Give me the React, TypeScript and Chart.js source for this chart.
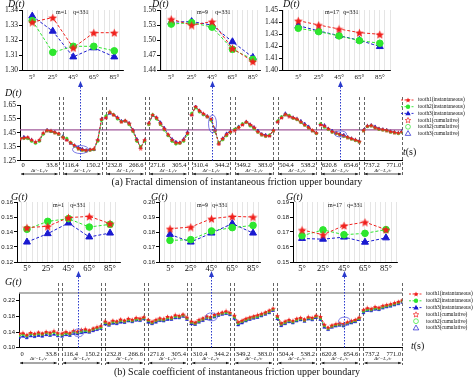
import React, { useEffect, useRef } from "react";
import { Chart, registerables } from "chart.js";

Chart.register(...registerables);

const SERIF = "'Liberation Serif', 'Times New Roman', serif";
const SANS = "'Liberation Sans', Arial, sans-serif";

// ================= DATA =================
const ANGLES = [5, 25, 45, 65, 85];

// (a) fractal dimension D(t) vs angle
const D_M1_TOOTH1 = [1.332, 1.335, 1.315, 1.325, 1.325];
const D_M1_TOOTH2 = [1.333, 1.312, 1.316, 1.316, 1.313];
const D_M1_TOOTH3 = [1.336, 1.326, 1.309, 1.315, 1.309];

const D_M9_TOOTH1 = [1.542, 1.530, 1.537, 1.484, 1.458];
const D_M9_TOOTH2 = [1.532, 1.535, 1.526, 1.482, 1.462];
const D_M9_TOOTH3 = [1.536, 1.537, 1.530, 1.497, 1.466];

const D_M17_TOOTH1 = [1.4412, 1.4376, 1.4343, 1.4313, 1.4299];
const D_M17_TOOTH2 = [1.4349, 1.4321, 1.4286, 1.4247, 1.4225];
const D_M17_TOOTH3 = [1.4371, 1.4327, 1.4288, 1.4250, 1.4198];

// (b) scale coefficient G(t) vs angle
const G_M1_TOOTH1 = [0.1429, 0.1438, 0.1496, 0.1504, 0.1456];
const G_M1_TOOTH2 = [0.1418, 0.1471, 0.1489, 0.1433, 0.1451];
const G_M1_TOOTH3 = [0.1333, 0.1389, 0.1460, 0.1367, 0.1393];

const G_M9_TOOTH1 = [0.1822, 0.1833, 0.1889, 0.1904, 0.1900];
const G_M9_TOOTH2 = [0.1744, 0.1749, 0.1807, 0.1829, 0.1844];
const G_M9_TOOTH3 = [0.1784, 0.1733, 0.1793, 0.1856, 0.1793];

const G_M17_TOOTH1 = [0.1714, 0.1682, 0.1743, 0.1766, 0.1716];
const G_M17_TOOTH2 = [0.1675, 0.1714, 0.1682, 0.1691, 0.1716];
const G_M17_TOOTH3 = [0.1657, 0.1652, 0.1666, 0.1632, 0.1661];

// time-series segments (t in s)
const SEG_START_LABELS = ["0", "116.4", "232.8", "271.6", "310.4", "349.2", "504.4", "620.8", "737.2"];
const SEG_END_LABELS = ["33.8", "150.2", "266.6", "305.4", "344.2", "383.0", "538.2", "654.6", "771.0"];

const D_TOOTH1_SEGS = [
  [1.41, 1.415, 1.42, 1.40, 1.385, 1.40, 1.45, 1.47, 1.465, 1.455, 1.445],
  [1.42, 1.40, 1.38, 1.36, 1.34, 1.33, 1.325, 1.33, 1.335, 1.40, 1.55],
  [1.56, 1.60, 1.58, 1.56, 1.53, 1.54, 1.52, 1.47, 1.40, 1.34, 1.40],
  [1.52, 1.58, 1.56, 1.52, 1.48, 1.44, 1.40, 1.38, 1.38, 1.40, 1.45],
  [1.58, 1.64, 1.61, 1.59, 1.57, 1.55, 1.47, 1.37, 1.41, 1.44, 1.46],
  [1.47, 1.49, 1.51, 1.53, 1.51, 1.49, 1.46, 1.44, 1.43, 1.43, 1.47],
  [1.53, 1.56, 1.585, 1.57, 1.56, 1.55, 1.53, 1.51, 1.49, 1.47, 1.45],
  [1.51, 1.50, 1.48, 1.46, 1.45, 1.44, 1.43, 1.42, 1.41, 1.40, 1.39],
  [1.47, 1.50, 1.505, 1.49, 1.48, 1.475, 1.47, 1.46, 1.455, 1.45, 1.46],
];
const D_TOOTH2_SEGS = [
  [1.41, 1.41, 1.41, 1.39, 1.375, 1.39, 1.44, 1.465, 1.46, 1.45, 1.44],
  [1.42, 1.41, 1.38, 1.355, 1.335, 1.325, 1.32, 1.325, 1.33, 1.39, 1.54],
  [1.57, 1.60, 1.58, 1.55, 1.53, 1.535, 1.51, 1.46, 1.39, 1.35, 1.39],
  [1.51, 1.58, 1.55, 1.51, 1.47, 1.43, 1.39, 1.37, 1.375, 1.39, 1.44],
  [1.59, 1.63, 1.60, 1.58, 1.565, 1.54, 1.46, 1.38, 1.40, 1.43, 1.455],
  [1.475, 1.49, 1.515, 1.525, 1.50, 1.48, 1.455, 1.435, 1.425, 1.435, 1.465],
  [1.535, 1.565, 1.58, 1.575, 1.555, 1.545, 1.525, 1.505, 1.485, 1.465, 1.445],
  [1.515, 1.49, 1.475, 1.455, 1.445, 1.435, 1.425, 1.415, 1.405, 1.395, 1.385],
  [1.465, 1.495, 1.50, 1.485, 1.475, 1.47, 1.465, 1.455, 1.45, 1.445, 1.455],
];
const D_TOOTH3_SEGS = [
  [1.41, 1.42, 1.415, 1.40, 1.38, 1.395, 1.445, 1.47, 1.46, 1.455, 1.44],
  [1.425, 1.40, 1.375, 1.36, 1.345, 1.335, 1.325, 1.33, 1.33, 1.40, 1.55],
  [1.56, 1.59, 1.58, 1.56, 1.535, 1.535, 1.52, 1.47, 1.405, 1.345, 1.395],
  [1.52, 1.575, 1.56, 1.525, 1.485, 1.435, 1.405, 1.385, 1.38, 1.405, 1.455],
  [1.58, 1.64, 1.61, 1.585, 1.57, 1.545, 1.475, 1.375, 1.41, 1.445, 1.46],
  [1.47, 1.495, 1.51, 1.53, 1.51, 1.49, 1.465, 1.44, 1.435, 1.43, 1.47],
  [1.53, 1.56, 1.59, 1.57, 1.56, 1.55, 1.535, 1.515, 1.495, 1.465, 1.45],
  [1.51, 1.505, 1.48, 1.465, 1.45, 1.44, 1.435, 1.42, 1.41, 1.40, 1.39],
  [1.47, 1.50, 1.505, 1.495, 1.48, 1.475, 1.47, 1.46, 1.455, 1.45, 1.465],
];

const G_TOOTH1_SEGS = [
  [0.136, 0.138, 0.133, 0.139, 0.136, 0.140, 0.137, 0.141, 0.139, 0.143, 0.138],
  [0.137, 0.141, 0.138, 0.144, 0.142, 0.146, 0.148, 0.145, 0.150, 0.153, 0.156],
  [0.168, 0.163, 0.170, 0.168, 0.173, 0.170, 0.175, 0.172, 0.177, 0.175, 0.179],
  [0.172, 0.167, 0.172, 0.176, 0.174, 0.180, 0.178, 0.184, 0.182, 0.186, 0.178],
  [0.168, 0.165, 0.172, 0.176, 0.181, 0.179, 0.185, 0.188, 0.191, 0.194, 0.190],
  [0.183, 0.166, 0.170, 0.175, 0.178, 0.181, 0.184, 0.187, 0.191, 0.196, 0.201],
  [0.182, 0.163, 0.168, 0.172, 0.169, 0.175, 0.177, 0.173, 0.179, 0.177, 0.183],
  [0.180, 0.160, 0.152, 0.158, 0.161, 0.163, 0.161, 0.166, 0.169, 0.172, 0.178],
  [0.197, 0.202, 0.200, 0.205, 0.203, 0.208, 0.210, 0.212, 0.215, 0.218, 0.222],
];
const G_TOOTH2_SEGS = [
  [0.131, 0.134, 0.130, 0.135, 0.133, 0.136, 0.134, 0.138, 0.135, 0.139, 0.134],
  [0.133, 0.137, 0.135, 0.140, 0.139, 0.142, 0.144, 0.142, 0.147, 0.150, 0.152],
  [0.164, 0.160, 0.166, 0.165, 0.169, 0.167, 0.171, 0.169, 0.173, 0.172, 0.176],
  [0.169, 0.164, 0.169, 0.172, 0.171, 0.176, 0.175, 0.180, 0.179, 0.183, 0.175],
  [0.165, 0.162, 0.168, 0.173, 0.177, 0.176, 0.181, 0.185, 0.188, 0.190, 0.187],
  [0.179, 0.162, 0.167, 0.171, 0.175, 0.178, 0.180, 0.184, 0.188, 0.192, 0.198],
  [0.178, 0.160, 0.164, 0.169, 0.166, 0.171, 0.174, 0.170, 0.176, 0.174, 0.180],
  [0.176, 0.156, 0.149, 0.155, 0.158, 0.160, 0.158, 0.163, 0.166, 0.169, 0.175],
  [0.193, 0.198, 0.197, 0.201, 0.200, 0.204, 0.207, 0.209, 0.212, 0.215, 0.219],
];
const G_TOOTH3_SEGS = [
  [0.126, 0.129, 0.125, 0.130, 0.128, 0.131, 0.129, 0.133, 0.131, 0.134, 0.130],
  [0.129, 0.133, 0.131, 0.136, 0.135, 0.138, 0.140, 0.139, 0.143, 0.146, 0.149],
  [0.160, 0.157, 0.162, 0.161, 0.165, 0.164, 0.168, 0.166, 0.170, 0.169, 0.173],
  [0.165, 0.161, 0.165, 0.169, 0.168, 0.172, 0.172, 0.176, 0.176, 0.180, 0.172],
  [0.161, 0.159, 0.165, 0.169, 0.174, 0.173, 0.178, 0.182, 0.185, 0.187, 0.184],
  [0.175, 0.158, 0.163, 0.168, 0.172, 0.175, 0.177, 0.181, 0.185, 0.189, 0.195],
  [0.174, 0.156, 0.161, 0.166, 0.163, 0.168, 0.171, 0.167, 0.173, 0.171, 0.177],
  [0.172, 0.152, 0.146, 0.152, 0.155, 0.157, 0.155, 0.160, 0.163, 0.166, 0.172],
  [0.189, 0.195, 0.194, 0.198, 0.197, 0.201, 0.204, 0.206, 0.209, 0.212, 0.216],
];

const D_REF = 1.472;
const G_REF = 0.24;

const D_ANNOT_SEG = [1, 4, 7];
const D_ANNOT_POS = [0.44, 0.52, 0.5];
const D_ANNOT_Y = [1.33, 1.515, 1.442];
const G_ANNOT_SEG = [1, 4, 7];
const G_ANNOT_POS = [0.42, 0.5, 0.6];
const G_ANNOT_Y = [0.138, 0.179, 0.168];

const INST_NAMES = ["tooth1(instantaneous)", "tooth2(instantaneous)", "tooth3(instantaneous)"];
const CUM_NAMES = ["tooth1(cumulative)", "tooth2(cumulative)", "tooth3(cumulative)"];
const SEG_ARROW_TEXT = "\u0394t'=L\u2081/v";

// ================= STYLE HELPERS =================
const COLORS = ["#f0201c", "#2ee62e", "#1a1ad0"];
const MARKERS = ["star", "circle", "triangle"];
const SEG_W = 10;
const SEG_GAP = 1.1;
const SEG_STEP = SEG_W + SEG_GAP;
const X_MAX = (SEG_START_LABELS.length - 1) * SEG_STEP + SEG_W;

function markerPath(ctx: CanvasRenderingContext2D, style: string, x: number, y: number, r: number) {
  ctx.beginPath();
  if (style === "circle") {
    ctx.arc(x, y, r, 0, Math.PI * 2);
  } else if (style === "triangle") {
    ctx.moveTo(x, y - r);
    ctx.lineTo(x + r * 0.95, y + r * 0.65);
    ctx.lineTo(x - r * 0.95, y + r * 0.65);
    ctx.closePath();
  } else {
    for (let i = 0; i < 10; i++) {
      const a = -Math.PI / 2 + (i * Math.PI) / 5;
      const rr = i % 2 === 0 ? r : r * 0.45;
      const px = x + rr * Math.cos(a);
      const py = y + rr * Math.sin(a);
      if (i === 0) ctx.moveTo(px, py);
      else ctx.lineTo(px, py);
    }
    ctx.closePath();
  }
}

const starCache: Record<string, HTMLCanvasElement> = {};
function starImage(size: number, color: string) {
  const key = size + color;
  if (starCache[key]) return starCache[key];
  const c = document.createElement("canvas");
  c.width = size;
  c.height = size;
  const ctx = c.getContext("2d")!;
  markerPath(ctx, "star", size / 2, size / 2 + size * 0.06, size / 2);
  ctx.fillStyle = color;
  ctx.fill();
  starCache[key] = c;
  return c;
}

function buildSeries(segs: number[][]) {
  const out: { x: number; y: number | null }[] = [];
  segs.forEach((vals, k) => {
    vals.forEach((v, i) => out.push({ x: k * SEG_STEP + (i * SEG_W) / (vals.length - 1), y: v }));
    if (k < segs.length - 1) out.push({ x: k * SEG_STEP + SEG_W + SEG_GAP / 2, y: null });
  });
  return out;
}

// ================= SMALL CHARTS =================
type SmallSpec = {
  left: number; top: number; width: number; height: number;
  areaL: number; areaT: number; areaR: number; areaB: number;
  xMin: number; xMax: number; yMin: number; yMax: number; yStep: number;
  yFont: string; yFontSize: number; xFontSize: number;
  series: number[][];
};

function smallConfig(s: SmallSpec): any {
  const grid: number[] = [];
  for (let v = Math.ceil(s.xMin / 5) * 5; v <= s.xMax; v += 5) grid.push(v);
  return {
    type: "line",
    data: {
      datasets: s.series.map((vals, i) => ({
        label: INST_NAMES[i],
        data: ANGLES.map((a, j) => ({ x: a, y: vals[j] })),
        borderColor: COLORS[i],
        backgroundColor: COLORS[i],
        borderWidth: 1,
        borderDash: [3, 2],
        pointStyle: i === 0 ? starImage(9, COLORS[0]) : MARKERS[i],
        pointRadius: i === 1 ? 3.3 : 4,
        pointBorderWidth: 1,
        pointBackgroundColor: COLORS[i],
        pointBorderColor: COLORS[i],
      })),
    },
    options: {
      animation: false,
      responsive: false,
      devicePixelRatio: 1,
      layout: { padding: { left: 0, top: s.areaT - s.top, right: s.left + s.width - s.areaR, bottom: 0 } },
      plugins: { legend: { display: false }, tooltip: { enabled: false } },
      scales: {
        x: {
          type: "linear",
          min: s.xMin,
          max: s.xMax,
          afterBuildTicks: (axis: any) => {
            axis.ticks = grid.map((v) => ({ value: v }));
          },
          afterFit: (axis: any) => {
            axis.height = s.top + s.height - s.areaB;
          },
          ticks: {
            autoSkip: false,
            maxRotation: 0,
            padding: 2,
            color: "#111",
            font: { family: SERIF, size: s.xFontSize },
            callback: (v: any) => (ANGLES.includes(Number(v)) ? v + "\u00b0" : ""),
          },
          grid: { color: "#dadada", lineWidth: 0.7, drawTicks: false },
          border: { color: "#000", width: 1 },
        },
        y: {
          min: s.yMin,
          max: s.yMax,
          afterFit: (axis: any) => {
            axis.width = s.areaL - s.left;
          },
          ticks: {
            stepSize: s.yStep,
            padding: 1,
            color: "#111",
            font: { family: s.yFont, size: s.yFontSize },
            callback: (v: any) => Number(v).toFixed(2),
          },
          grid: { drawOnChartArea: false, tickLength: 3, tickColor: "#000", color: "#000" },
          border: { color: "#000", width: 1 },
        },
      },
    },
  };
}

// ================= TIME SERIES =================
type SeriesSpec = {
  left: number; top: number; width: number; height: number;
  areaL: number; areaT: number; areaR: number; areaB: number;
  yMin: number; yMax: number; yStep: number; yFont: string; yFontSize: number;
  teeth: number[][][];
  refY: number; refColor: string; refWidth: number;
  annSeg: number[]; annPos: number[]; annY: number[]; annR: number[][];
  labelDy: number; textDy: number; arrowDy: number; sepAbove: number;
  legendX: number; legendY: number; legendStep: number;
};

function seriesDeco(s: SeriesSpec) {
  return {
    id: "seriesDeco",
    beforeDatasetsDraw(chart: any) {
      const { ctx, chartArea: ca, scales } = chart;
      const x = scales.x;
      const y = scales.y;
      ctx.save();
      const ry = y.getPixelForValue(s.refY);
      ctx.strokeStyle = s.refColor;
      ctx.lineWidth = s.refWidth;
      ctx.beginPath();
      ctx.moveTo(ca.left, ry);
      ctx.lineTo(ca.right, ry);
      ctx.stroke();
      ctx.strokeStyle = "#555";
      ctx.lineWidth = 0.9;
      ctx.setLineDash([3, 2]);
      SEG_START_LABELS.forEach((_, k) => {
        const a = k * SEG_STEP;
        const b = a + SEG_W;
        const xs = k === 0 ? [b] : [a, b];
        xs.forEach((v) => {
          const px = Math.round(x.getPixelForValue(v)) + 0.5;
          ctx.beginPath();
          ctx.moveTo(px, ca.top - s.sepAbove);
          ctx.lineTo(px, ca.bottom + s.arrowDy + 2);
          ctx.stroke();
        });
      });
      ctx.restore();
    },
    afterDraw(chart: any) {
      const { ctx, chartArea: ca, scales } = chart;
      const x = scales.x;
      const y = scales.y;
      ctx.save();
      // segment labels and arrows
      ctx.fillStyle = "#111";
      ctx.strokeStyle = "#222";
      ctx.lineWidth = 0.8;
      SEG_START_LABELS.forEach((lab, k) => {
        const a = x.getPixelForValue(k * SEG_STEP);
        const b = x.getPixelForValue(k * SEG_STEP + SEG_W);
        ctx.font = `6.5px ${SERIF}`;
        ctx.textBaseline = "middle";
        ctx.textAlign = "left";
        ctx.fillText(lab, a + 1.5, ca.bottom + s.labelDy);
        ctx.textAlign = "right";
        ctx.fillText(SEG_END_LABELS[k], b - 1, ca.bottom + s.labelDy);
        ctx.font = `italic 5px ${SERIF}`;
        ctx.textAlign = "center";
        ctx.fillText(SEG_ARROW_TEXT, (a + b) / 2, ca.bottom + s.textDy);
        const ay = ca.bottom + s.arrowDy;
        ctx.beginPath();
        ctx.moveTo(a + 1, ay);
        ctx.lineTo(b - 1, ay);
        ctx.stroke();
        ctx.beginPath();
        ctx.moveTo(a + 1, ay);
        ctx.lineTo(a + 4, ay - 1.3);
        ctx.lineTo(a + 4, ay + 1.3);
        ctx.closePath();
        ctx.moveTo(b - 1, ay);
        ctx.lineTo(b - 4, ay - 1.3);
        ctx.lineTo(b - 4, ay + 1.3);
        ctx.closePath();
        ctx.fill();
      });
      // annotations: dotted arrows and ellipses
      s.annSeg.forEach((seg, i) => {
        const px = Math.round(x.getPixelForValue(seg * SEG_STEP + s.annPos[i] * SEG_W)) + 0.5;
        ctx.strokeStyle = "#2a3acc";
        ctx.fillStyle = "#2a3acc";
        ctx.lineWidth = 1;
        ctx.setLineDash([1.5, 1.5]);
        ctx.beginPath();
        ctx.moveTo(px, 7);
        ctx.lineTo(px, ca.bottom);
        ctx.stroke();
        ctx.setLineDash([]);
        ctx.beginPath();
        ctx.moveTo(px, 1);
        ctx.lineTo(px + 2.5, 7);
        ctx.lineTo(px - 2.5, 7);
        ctx.closePath();
        ctx.fill();
        ctx.strokeStyle = "#5c5ce0";
        ctx.lineWidth = 0.8;
        ctx.beginPath();
        ctx.ellipse(px, y.getPixelForValue(s.annY[i]), s.annR[i][0], s.annR[i][1], 0, 0, Math.PI * 2);
        ctx.stroke();
      });
      // legend
      const names = [...INST_NAMES, ...CUM_NAMES];
      names.forEach((name, i) => {
        const k = i % 3;
        const ly = s.legendY + i * s.legendStep;
        const lx = s.legendX;
        ctx.setLineDash([]);
        if (i < 3) {
          ctx.strokeStyle = COLORS[k];
          ctx.lineWidth = 0.9;
          ctx.setLineDash([2, 1.5]);
          ctx.beginPath();
          ctx.moveTo(lx - 7, ly);
          ctx.lineTo(lx + 7, ly);
          ctx.stroke();
          ctx.setLineDash([]);
          markerPath(ctx, MARKERS[k], lx, ly + (k === 0 ? 0.3 : 0), k === 1 ? 2.2 : 2.8);
          ctx.fillStyle = COLORS[k];
          ctx.fill();
        } else {
          markerPath(ctx, MARKERS[k], lx, ly + (k === 0 ? 0.3 : 0), k === 1 ? 2.4 : 2.9);
          ctx.strokeStyle = COLORS[k];
          ctx.lineWidth = 0.7;
          ctx.stroke();
        }
        ctx.fillStyle = "#111";
        ctx.font = `5.4px ${SERIF}`;
        ctx.textAlign = "left";
        ctx.textBaseline = "middle";
        ctx.fillText(name, lx + 10, ly);
      });
      ctx.restore();
    },
  };
}

function seriesConfig(s: SeriesSpec): any {
  return {
    type: "line",
    data: {
      datasets: s.teeth.map((segs, i) => ({
        label: INST_NAMES[i],
        data: buildSeries(segs),
        borderColor: COLORS[i],
        backgroundColor: COLORS[i],
        borderWidth: 1,
        borderDash: [2.5, 1.5],
        pointStyle: i === 0 ? starImage(5, COLORS[0]) : MARKERS[i],
        pointRadius: i === 1 ? 1.3 : 1.7,
        pointBorderWidth: 0.6,
        pointBackgroundColor: COLORS[i],
        pointBorderColor: COLORS[i],
        spanGaps: false,
      })),
    },
    options: {
      animation: false,
      responsive: false,
      devicePixelRatio: 1,
      layout: { padding: { left: 0, top: s.areaT - s.top, right: s.left + s.width - s.areaR, bottom: 0 } },
      plugins: { legend: { display: false }, tooltip: { enabled: false } },
      scales: {
        x: {
          type: "linear",
          min: 0,
          max: X_MAX,
          afterFit: (axis: any) => {
            axis.height = s.top + s.height - s.areaB;
          },
          ticks: { display: false },
          grid: { display: false },
          border: { color: "#000", width: 1 },
        },
        y: {
          min: s.yMin,
          max: s.yMax,
          afterFit: (axis: any) => {
            axis.width = s.areaL - s.left;
          },
          ticks: {
            stepSize: s.yStep,
            padding: 1,
            color: "#111",
            font: { family: s.yFont, size: s.yFontSize },
            callback: (v: any) => Number(v).toFixed(2),
          },
          grid: { drawOnChartArea: false, tickLength: 3, tickColor: "#000", color: "#000" },
          border: { color: "#000", width: 1 },
        },
      },
    },
    plugins: [seriesDeco(s)],
  };
}

// ================= COMPONENTS =================
function ChartCanvas(props: { left: number; top: number; width: number; height: number; make: () => any }) {
  const ref = useRef<HTMLCanvasElement>(null);
  useEffect(() => {
    const chart = new Chart(ref.current as HTMLCanvasElement, props.make());
    return () => chart.destroy();
  }, []);
  return (
    <canvas
      ref={ref}
      width={props.width}
      height={props.height}
      style={{ position: "absolute", left: props.left, top: props.top, width: props.width, height: props.height }}
    />
  );
}

const SMALL_SPECS: SmallSpec[] = [
  { left: 0, top: 0, width: 135, height: 82, areaL: 22, areaT: 10, areaR: 123, areaB: 70.5, xMin: -5, xMax: 93.5, yMin: 1.3, yMax: 1.34, yStep: 0.01, yFont: SERIF, yFontSize: 7.5, xFontSize: 7, series: [D_M1_TOOTH1, D_M1_TOOTH2, D_M1_TOOTH3] },
  { left: 137, top: 0, width: 135, height: 82, areaL: 160, areaT: 10, areaR: 260, areaB: 70.5, xMin: -6, xMax: 92, yMin: 1.44, yMax: 1.56, yStep: 0.03, yFont: SERIF, yFontSize: 7.5, xFontSize: 7, series: [D_M9_TOOTH1, D_M9_TOOTH2, D_M9_TOOTH3] },
  { left: 265, top: 0, width: 135, height: 82, areaL: 282, areaT: 10, areaR: 390, areaB: 70.5, xMin: -11, xMax: 95, yMin: 1.4, yMax: 1.45, yStep: 0.01, yFont: SERIF, yFontSize: 7.5, xFontSize: 7, series: [D_M17_TOOTH1, D_M17_TOOTH2, D_M17_TOOTH3] },
  { left: 0, top: 193, width: 135, height: 80, areaL: 17, areaT: 202, areaR: 120, areaB: 262, xMin: -4.6, xMax: 94.6, yMin: 0.12, yMax: 0.16, yStep: 0.01, yFont: SANS, yFontSize: 6, xFontSize: 8.5, series: [G_M1_TOOTH1, G_M1_TOOTH2, G_M1_TOOTH3] },
  { left: 137, top: 193, width: 135, height: 80, areaL: 159, areaT: 202, areaR: 260, areaB: 262, xMin: -5.6, xMax: 91.7, yMin: 0.16, yMax: 0.2, yStep: 0.01, yFont: SANS, yFontSize: 6, xFontSize: 8.5, series: [G_M9_TOOTH1, G_M9_TOOTH2, G_M9_TOOTH3] },
  { left: 265, top: 193, width: 140, height: 80, areaL: 293, areaT: 202, areaR: 397, areaB: 262, xMin: -3.6, xMax: 95.5, yMin: 0.15, yMax: 0.19, yStep: 0.01, yFont: SANS, yFontSize: 6, xFontSize: 8.5, series: [G_M17_TOOTH1, G_M17_TOOTH2, G_M17_TOOTH3] },
];

const SERIES_SPECS: SeriesSpec[] = [
  {
    left: 0, top: 80, width: 474, height: 100, areaL: 20, areaT: 105, areaR: 402.2, areaB: 160.7,
    yMin: 1.25, yMax: 1.65, yStep: 0.05, yFont: SERIF, yFontSize: 7.5,
    teeth: [D_TOOTH1_SEGS, D_TOOTH2_SEGS, D_TOOTH3_SEGS],
    refY: D_REF, refColor: "#a0589a", refWidth: 1.2,
    annSeg: D_ANNOT_SEG, annPos: D_ANNOT_POS, annY: D_ANNOT_Y, annR: [[8, 4], [4, 9], [6, 3]],
    labelDy: 4.5, textDy: 9.5, arrowDy: 13.3, sepAbove: 8,
    legendX: 408, legendY: 20, legendStep: 6.7,
  },
  {
    left: 0, top: 270, width: 474, height: 100, areaL: 19, areaT: 293, areaR: 402.2, areaB: 347.7,
    yMin: 0.1, yMax: 0.24, yStep: 0.02, yFont: SANS, yFontSize: 6,
    teeth: [G_TOOTH1_SEGS, G_TOOTH2_SEGS, G_TOOTH3_SEGS],
    refY: G_REF, refColor: "#999999", refWidth: 1.6,
    annSeg: G_ANNOT_SEG, annPos: G_ANNOT_POS, annY: G_ANNOT_Y, annR: [[5, 4], [6, 4], [6, 4]],
    labelDy: 6.3, textDy: 11, arrowDy: 15.3, sepAbove: 10,
    legendX: 416, legendY: 24, legendStep: 6.8,
  },
];

type TextItem = { t: string; x: number; y: number; size: number; italic?: boolean; family?: string };

const TEXTS: TextItem[] = [
  { t: "D(t)", x: 8, y: -1, size: 10, italic: true },
  { t: "D(t)", x: 152, y: -1, size: 10, italic: true },
  { t: "D(t)", x: 283, y: -1, size: 10, italic: true },
  { t: "D(t)", x: 5, y: 88, size: 10, italic: true },
  { t: "G(t)", x: 11, y: 192, size: 10, italic: true },
  { t: "G(t)", x: 151, y: 192, size: 10, italic: true },
  { t: "G(t)", x: 286, y: 192, size: 10, italic: true },
  { t: "G(t)", x: 5, y: 277, size: 10, italic: true },
  { t: "m=1", x: 56, y: 9, size: 6 },
  { t: "q=331", x: 73, y: 9, size: 6 },
  { t: "m=9", x: 197, y: 9, size: 6 },
  { t: "q=331", x: 215, y: 9, size: 6 },
  { t: "m=17", x: 325, y: 9, size: 6 },
  { t: "q=331", x: 343, y: 9, size: 6 },
  { t: "m=1", x: 53, y: 202, size: 6 },
  { t: "q=331", x: 70, y: 202, size: 6 },
  { t: "m=9", x: 197, y: 202, size: 6 },
  { t: "q=331", x: 212, y: 202, size: 6 },
  { t: "m=17", x: 328, y: 202, size: 6 },
  { t: "q=331", x: 347, y: 202, size: 6 },
];

export default function App() {
  return (
    <div
      style={{
        position: "absolute",
        left: 0,
        top: 0,
        width: 474,
        height: 380,
        background: "#fff",
        overflow: "hidden",
        fontFamily: SERIF,
        color: "#111",
      }}
    >
      {SMALL_SPECS.map((s, i) => (
        <ChartCanvas key={"s" + i} left={s.left} top={s.top} width={s.width} height={s.height} make={() => smallConfig(s)} />
      ))}
      {SERIES_SPECS.map((s, i) => (
        <ChartCanvas key={"t" + i} left={s.left} top={s.top} width={s.width} height={s.height} make={() => seriesConfig(s)} />
      ))}
      {TEXTS.map((it, i) => (
        <div
          key={"x" + i}
          style={{
            position: "absolute",
            left: it.x,
            top: it.y,
            fontSize: it.size,
            lineHeight: 1,
            fontStyle: it.italic ? "italic" : "normal",
            whiteSpace: "nowrap",
          }}
        >
          {it.t}
        </div>
      ))}
      <div style={{ position: "absolute", left: 403, top: 147, fontSize: 10, lineHeight: 1, whiteSpace: "nowrap" }}>
        <i>t</i>(s)
      </div>
      <div style={{ position: "absolute", left: 411, top: 341, fontSize: 10, lineHeight: 1, whiteSpace: "nowrap" }}>
        <i>t</i>(s)
      </div>
      <div style={{ position: "absolute", left: 0, top: 177, width: 474, textAlign: "center", fontSize: 10, lineHeight: 1, whiteSpace: "nowrap" }}>
        (a) Fractal dimension of instantaneous friction upper boundary
      </div>
      <div style={{ position: "absolute", left: 0, top: 367, width: 474, textAlign: "center", fontSize: 10, lineHeight: 1, whiteSpace: "nowrap" }}>
        (b) Scale coefficient of instantaneous friction upper boundary
      </div>
    </div>
  );
}
